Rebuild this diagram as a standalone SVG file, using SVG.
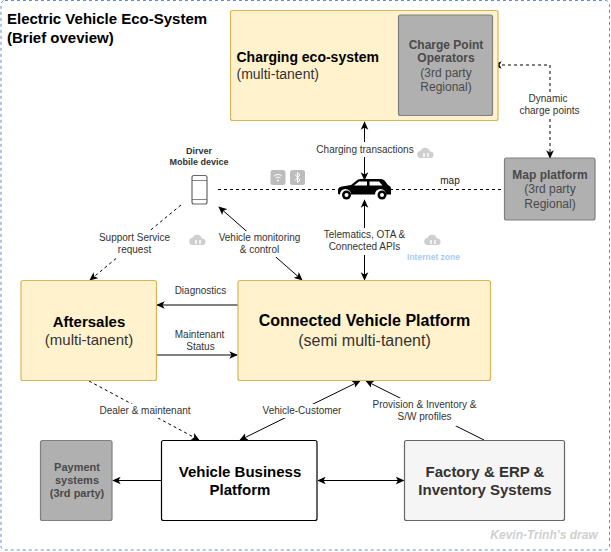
<svg xmlns="http://www.w3.org/2000/svg" width="611" height="552" viewBox="0 0 611 552">
<style>
text{font-family:"Liberation Sans",Arial,sans-serif;text-anchor:middle}
.y{fill:#fff2cc;stroke:#d6b656;stroke-width:1.200}
.g{fill:#b0b0b0;stroke:#7f7f7f;stroke-width:1.200}
.l{font-size:10px;fill:#333}
.lb{fill:#fff}
.c{fill:none;stroke:#000;stroke-width:1}
.d{stroke-dasharray:3 3}
.gt{fill:#4a4a4a}
.cl{fill:#cfcfcf}
.ic{fill:#bdbdbd}
</style>
<defs>
<marker id="a" viewBox="0 0 10 10" refX="9" refY="5" markerWidth="8.500" markerHeight="8.500" markerUnits="userSpaceOnUse" orient="auto-start-reverse"><path d="M0 0.500L10 5L0 9.500L2.500 5Z" fill="#000"/></marker>
<g id="cloud"><path class="cl" d="M-5 4a3.500 3.500 0 0 1-.5-7a5 5 0 0 1 9.500 0.500a3.300 3.300 0 0 1 1 6.500Z"/><path d="M-2 3v-4M2 3v-4" stroke="#fff" stroke-width="1.500"/></g>
</defs>
<rect id="frame" x="1" y="0.500" width="608.500" height="549.500" rx="4" fill="#fff" stroke="#5b8fd6" stroke-width="1" stroke-dasharray="3 3"/>
<g id="title"><text x="7" y="24" font-size="15" font-weight="bold" fill="#000" style="text-anchor:start">Electric Vehicle Eco-System</text><text x="7" y="43" font-size="15" font-weight="bold" fill="#000" style="text-anchor:start">(Brief oveview)</text></g>
<g id="connectors">
<path class="c" d="M364.500 180V122" marker-start="url(#a)" marker-end="url(#a)"/>
<path class="c" d="M364.500 200V280" marker-start="url(#a)" marker-end="url(#a)"/>
<path class="c d" d="M218 189.500H338M390 189.500H504"/>
<path class="c d" d="M550 158V65H494" marker-start="url(#a)" marker-end="url(#a)"/>
<path class="c d" d="M181 205L90 280" marker-end="url(#a)"/>
<path class="c" d="M219 207L302 280" marker-start="url(#a)" marker-end="url(#a)"/>
<path class="c" d="M238 305H157" marker-end="url(#a)"/>
<path class="c" d="M157 355H237" marker-end="url(#a)"/>
<path class="c d" d="M89 381L199 440" marker-end="url(#a)"/>
<path class="c" d="M240 440L360 381" marker-start="url(#a)" marker-end="url(#a)"/>
<path class="c" d="M484 440L366 381" marker-end="url(#a)"/>
<path class="c" d="M161 480.500H113" marker-end="url(#a)"/>
<path class="c" d="M318 480.500H403.500" marker-start="url(#a)" marker-end="url(#a)"/>
</g>
<g id="edge-labels">
<rect class="lb" x="314" y="142" width="102" height="15"/><text class="l" x="365" y="153">Charging transactions</text>
<rect class="lb" x="322" y="228" width="84" height="27"/><text class="l" x="364.500" y="238">Telematics, OTA &amp;</text><text class="l" x="364.500" y="250">Connected APIs</text>
<rect class="lb" x="438" y="174" width="24" height="13"/><text x="450" y="184" font-size="10" fill="#222">map</text>
<rect class="lb" x="518" y="92" width="62" height="26"/><text class="l" x="548" y="102">Dynamic</text><text class="l" x="549.500" y="114">charge points</text>
<rect class="lb" x="97" y="231" width="74" height="27"/><text class="l" x="134.500" y="241">Support Service</text><text class="l" x="134.500" y="253">request</text>
<rect class="lb" x="217" y="231" width="86" height="26"/><text class="l" x="259.500" y="241">Vehicle monitoring</text><text class="l" x="259.500" y="253">&amp; control</text>
<text class="l" x="200.500" y="294">Diagnostics</text>
<text class="l" x="199.500" y="338">Maintenant</text><text class="l" x="200.500" y="350">Status</text>
<rect class="lb" x="98" y="404" width="94" height="14"/><text class="l" x="145" y="414">Dealer &amp; maintenant</text>
<rect class="lb" x="260" y="404" width="84" height="14"/><text class="l" x="302" y="414">Vehicle-Customer</text>
<rect class="lb" x="370" y="398" width="110" height="28"/><text class="l" x="424.500" y="408">Provision &amp; Inventory &amp;</text><text class="l" x="424.500" y="420">S/W profiles</text>
</g>
<g id="charging"><rect class="y" x="230.500" y="10.500" width="267.500" height="110" rx="2"/><text x="236.500" y="62" font-size="14" font-weight="bold" fill="#000" style="text-anchor:start">Charging eco-system</text><text x="236.500" y="79" font-size="14" fill="#333" style="text-anchor:start">(multi-tanent)</text></g>
<g id="cpo"><rect class="g" x="398.500" y="15" width="94" height="100.500" rx="2"/><text class="gt" x="446" y="49" font-size="12" font-weight="bold">Charge Point</text><text class="gt" x="446" y="62" font-size="12" font-weight="bold">Operators</text><text class="gt" x="446" y="77" font-size="12">(3rd party</text><text class="gt" x="446" y="91" font-size="12">Regional)</text></g>
<g id="map-platform"><rect class="g" x="504.500" y="158" width="90.500" height="62" rx="2"/><text class="gt" x="550" y="179" font-size="12" font-weight="bold">Map platform</text><text class="gt" x="550" y="193" font-size="12">(3rd party</text><text class="gt" x="550" y="208" font-size="12">Regional)</text></g>
<g id="aftersales"><rect class="y" x="21" y="280.500" width="135.500" height="100" rx="2"/><text x="89" y="327" font-size="15" font-weight="bold" fill="#000">Aftersales</text><text x="89" y="345" font-size="15" fill="#333">(multi-tanent)</text></g>
<g id="cvp"><rect class="y" x="238" y="280.500" width="252.500" height="100" rx="2"/><text x="364.500" y="326" font-size="16" font-weight="bold" fill="#000">Connected Vehicle Platform</text><text x="364.500" y="346" font-size="16" fill="#333">(semi multi-tanent)</text></g>
<g id="payment"><rect class="g" x="40.500" y="440.500" width="71.500" height="80" rx="2"/><text class="gt" x="77" y="471" font-size="11" font-weight="bold">Payment</text><text class="gt" x="77" y="484" font-size="11" font-weight="bold">systems</text><text class="gt" x="77" y="497" font-size="11" font-weight="bold">(3rd party)</text></g>
<g id="vbp"><rect x="161.500" y="440.500" width="155.500" height="80" rx="2" fill="#fff" stroke="#000" stroke-width="1.200"/><text x="240" y="477" font-size="15" font-weight="bold" fill="#000">Vehicle Business</text><text x="240" y="495" font-size="15" font-weight="bold" fill="#000">Platform</text></g>
<g id="factory"><rect x="404.500" y="440.500" width="160" height="80" rx="2" fill="#f5f5f5" stroke="#666" stroke-width="1.200"/><text x="485" y="477" font-size="15" font-weight="bold" fill="#333">Factory &amp; ERP &amp;</text><text x="485" y="495" font-size="15" font-weight="bold" fill="#333">Inventory Systems</text></g>
<g id="driver-device"><text x="199" y="154" font-size="9" font-weight="bold" fill="#333">Dirver</text><text x="199" y="165" font-size="9" font-weight="bold" fill="#333">Mobile device</text>
<rect x="192" y="175.500" width="15" height="28.500" rx="2" fill="#fff" stroke="#666" stroke-width="1.200"/><path d="M192 180.500H207M192 199.500H207" stroke="#666" stroke-width="0.800"/></g>
<g id="car"><path fill="#000" d="M338 194v-4q0-3 4-3.500l9-1.500l7-5.500q1-.5 3-.5h20q2 0 3.500 1.500l3.500 4.500q3 1 3 4v5.500h-5a5.500 5.500 0 0 0-11 0h-24a5.500 5.500 0 0 0-11 0Z"/><path d="M354 185.500l5-4h8v4ZM369.500 181.500h9.500l3.500 4h-13Z" fill="#fff"/><circle cx="346.500" cy="195" r="4.500" fill="#000"/><circle cx="346.500" cy="195" r="2" fill="#fff"/><circle cx="382" cy="195" r="4.500" fill="#000"/><circle cx="382" cy="195" r="2" fill="#fff"/></g>
<g id="radio-icons"><rect class="ic" x="270.500" y="170" width="15" height="15" rx="2.500"/><path d="M274 176a6 6 0 0 1 8 0M275.500 178a4 4 0 0 1 5 0" fill="none" stroke="#fff"/><circle cx="278" cy="180.500" r="1" fill="#fff"/><rect class="ic" x="290" y="170" width="15" height="15" rx="2.500"/><path d="M295 174.500l5 5.500l-2.500 2.500v-10l2.500 2.500l-5 5.500" fill="none" stroke="#fff"/></g>
<g id="internet-icons"><use href="#cloud" x="426" y="154"/><use href="#cloud" x="198" y="241"/><use href="#cloud" x="433" y="241"/><text x="433.500" y="260" font-size="8.500" font-weight="bold" fill="#a8cdf5">Internet zone</text></g>
<text x="544" y="539" font-size="12" font-weight="bold" font-style="italic" fill="#d0d0d0">Kevin-Trinh's draw</text>
</svg>
